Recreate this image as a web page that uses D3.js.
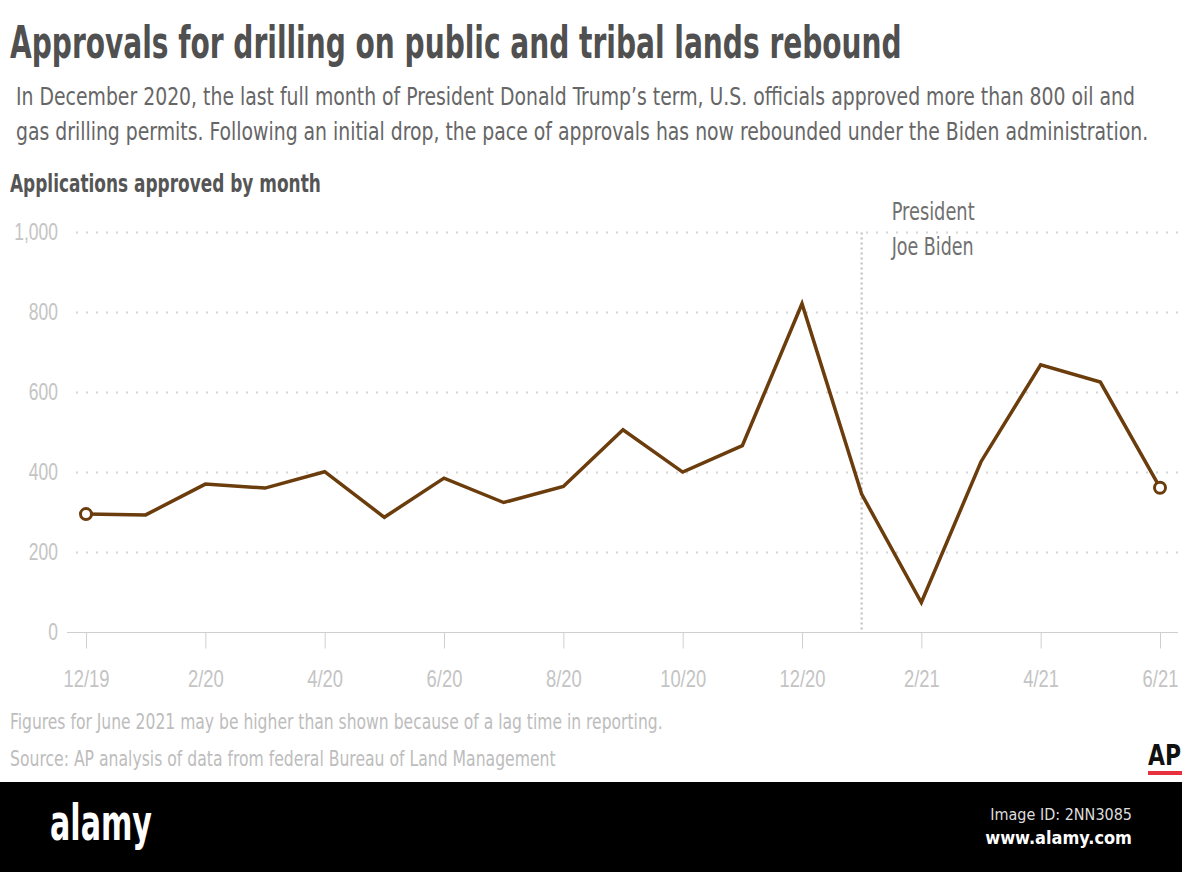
<!DOCTYPE html>
<html>
<head>
<meta charset="utf-8">
<script src="https://cdn.jsdelivr.net/npm/d3@7"></script>
<style>
  body { margin: 0; background: #fff; }
  svg { display: block; font-family: "Liberation Sans Narrow", "DejaVu Sans Condensed", "Roboto", sans-serif; }
</style>
</head>
<body>
<svg width="1182" height="872"></svg>
<script>
var width = 1182;
var height = 872;

// data
var months = ['12/19','1/20','2/20','3/20','4/20','5/20','6/20','7/20','8/20','9/20',
              '10/20','11/20','12/20','1/21','2/21','3/21','4/21','5/21','6/21'];
var approvals = [296, 294, 371, 361, 402, 288, 386, 325, 365, 507,
                 401, 467, 822, 346, 75, 427, 669, 626, 362];
var xTickLabels = ['12/19','2/20','4/20','6/20','8/20','10/20','12/20','2/21','4/21','6/21'];
var yTicks = [0, 200, 400, 600, 800, 1000];
var bidenMonth = '1/21';

var svg = d3.select('svg');

var x = d3.scaleLinear()
          .domain([0, months.length - 1])
          .range([86, 1160]);
var y = d3.scaleLinear()
          .domain([0, 1000])
          .range([632.5, 232.5]);

// squeeze a text horizontally to a given width (the fonts here are wider than the original)
function fit(t, w) {
  var n = t.node().getComputedTextLength();
  var tx = +t.attr('x'), ty = +t.attr('y');
  t.attr('x', 0).attr('y', 0)
   .attr('transform', `translate(${tx},${ty}) scale(${w / n},1)`);
  return t;
}

// titles
fit(svg.append('text')
    .attr('x', 10).attr('y', 58)
    .style('font-size', '44px').style('font-weight', 'bold').attr('fill', '#505050')
    .text('Approvals for drilling on public and tribal lands rebound'), 892);

var sub = ['In December 2020, the last full month of President Donald Trump\u2019s term, U.S. officials approved more than 800 oil and',
           'gas drilling permits. Following an initial drop, the pace of approvals has now rebounded under the Biden administration.'];
var subW = [1120, 1133];
sub.forEach(function (s, i) {
  fit(svg.append('text')
      .attr('x', 16).attr('y', 105 + i * 35)
      .style('font-size', '25px').attr('fill', '#666')
      .text(s), subW[i]);
});

fit(svg.append('text')
    .attr('x', 10).attr('y', 192)
    .style('font-size', '24px').style('font-weight', 'bold').attr('fill', '#555')
    .text('Applications approved by month'), 311);

// gridlines
svg.append('g')
    .selectAll('line')
    .data(yTicks.filter(d => d > 0))
    .enter()
    .append('line')
      .attr('x1', 76).attr('x2', width)
      .attr('y1', d => y(d)).attr('y2', d => y(d))
      .attr('stroke', '#d4d4d4')
      .attr('stroke-width', 2)
      .attr('stroke-dasharray', '2,8');

// y axis labels
var yAxis = svg.append('g')
    .attr('transform', 'translate(58,0)')
    .call(d3.axisLeft(y).tickValues(yTicks).tickFormat(d3.format(',')).tickSize(0).tickPadding(0));
yAxis.select('.domain').remove();
yAxis.selectAll('text')
    .style('font-size', '23px')
    .attr('fill', '#c4c4c4')
    .attr('transform', 'scale(0.76,1)');

// x axis
var xAxis = svg.append('g')
    .attr('transform', 'translate(0,' + y(0) + ')')
    .call(d3.axisBottom(x)
            .tickValues(xTickLabels.map(d => months.indexOf(d)))
            .tickFormat(i => months[i])
            .tickSize(16)
            .tickPadding(22)
            .tickSizeOuter(0));
xAxis.select('.domain').attr('d', 'M67,0H1178').attr('stroke', '#cfcfcf');
xAxis.selectAll('.tick line').attr('stroke', '#cfcfcf');
xAxis.selectAll('text')
    .style('font-size', '23px')
    .attr('fill', '#c4c4c4')
    .attr('transform', 'scale(0.8,1)');

// Biden marker
var bx = x(months.indexOf(bidenMonth));
svg.append('line')
    .attr('x1', bx).attr('x2', bx)
    .attr('y1', y(1000)).attr('y2', y(0))
    .attr('stroke', '#c8c8c8')
    .attr('stroke-width', 2.5)
    .attr('stroke-dasharray', '2,3');
['President', 'Joe Biden'].forEach(function (s, i) {
  fit(svg.append('text')
      .attr('x', bx + 30).attr('y', 220 + i * 35)
      .style('font-size', '24px').attr('fill', '#707070')
      .text(s), i ? 82 : 83);
});

// line
var line = d3.line()
             .x((d, i) => x(i))
             .y(d => y(d));
svg.append('path')
    .datum(approvals)
    .attr('d', line)
    .attr('fill', 'none')
    .attr('stroke', '#6b3c0c')
    .attr('stroke-width', 3.5)
    .attr('stroke-linejoin', 'miter');

var last = approvals.length - 1;
svg.selectAll('.endpoint')
    .data([0, last])
    .enter()
    .append('circle')
      .classed('endpoint', true)
      .attr('cx', i => x(i))
      .attr('cy', i => y(approvals[i]))
      .attr('r', 5.5)
      .attr('fill', '#fff')
      .attr('stroke', '#6b3c0c')
      .attr('stroke-width', 3);

// notes
fit(svg.append('text')
    .attr('x', 10).attr('y', 729)
    .style('font-size', '21px').attr('fill', '#bdbdbd')
    .text('Figures for June 2021 may be higher than shown because of a lag time in reporting.'), 653);
fit(svg.append('text')
    .attr('x', 10).attr('y', 766)
    .style('font-size', '21px').attr('fill', '#bdbdbd')
    .text('Source: AP analysis of data from federal Bureau of Land Management'), 546);

// AP logo
fit(svg.append('text')
    .attr('x', 1148).attr('y', 765)
    .style('font-size', '28px').style('font-weight', 'bold').attr('fill', '#111')
    .text('AP'), 33);
svg.append('rect')
    .attr('x', 1148).attr('y', 771).attr('width', 34).attr('height', 4)
    .attr('fill', '#e8313f');

// watermark band
svg.append('rect')
    .attr('x', 0).attr('y', 782).attr('width', width).attr('height', height - 782)
    .attr('fill', '#000');
fit(svg.append('text')
    .attr('x', 50).attr('y', 840)
    .style('font-size', '50px').style('font-weight', 'bold').attr('fill', '#fff')
    .text('alamy'), 102);
svg.append('text')
    .attr('x', 1132).attr('y', 820).attr('text-anchor', 'end')
    .style('font-size', '16px').attr('fill', '#ddd')
    .text('Image ID: 2NN3085');
svg.append('text')
    .attr('x', 1132).attr('y', 844).attr('text-anchor', 'end')
    .style('font-size', '18px').style('font-weight', 'bold').attr('fill', '#fff')
    .text('www.alamy.com');
</script>
</body>
</html>
